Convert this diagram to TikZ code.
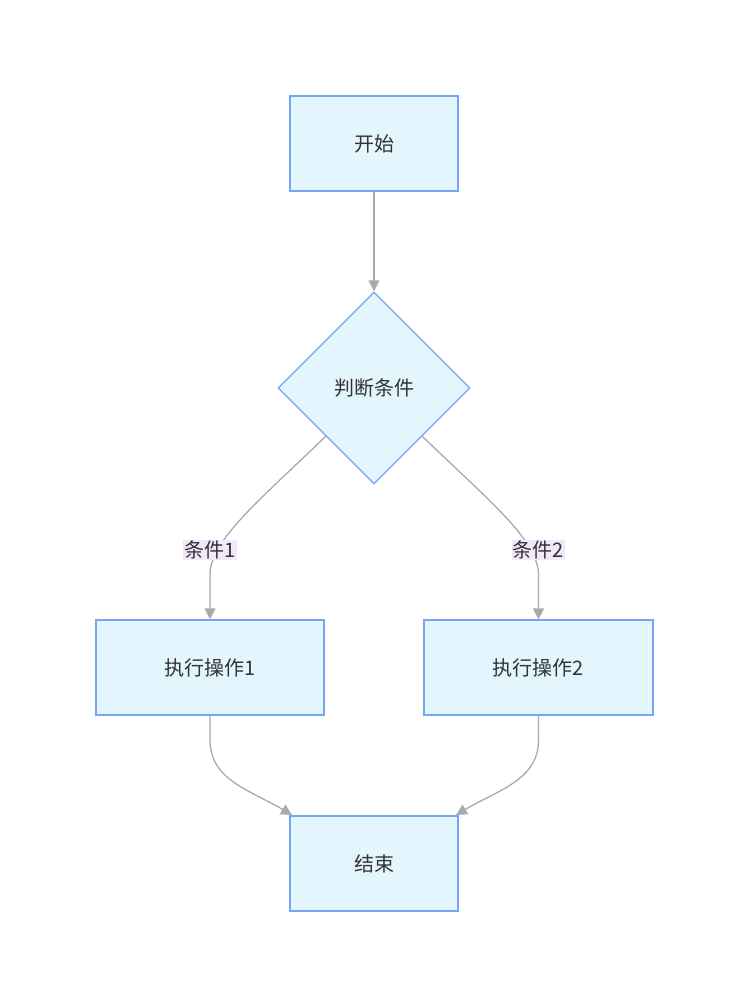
\documentclass[tikz,border=0pt]{standalone}
\usepackage{fontspec}
\setmainfont{Noto Sans CJK SC}
\usetikzlibrary{shapes.geometric,arrows.meta}
\definecolor{nfill}{HTML}{E3F5FD}
\definecolor{nline}{HTML}{74A6F5}
\definecolor{lbg}{HTML}{F1E8FB}
\definecolor{txt}{HTML}{333333}
\definecolor{edge}{HTML}{AAAAAA}
\begin{document}
\begin{tikzpicture}[x=1pt,y=-1pt,
 box/.style={draw=nline,fill=nfill,line width=1.3pt,minimum height=95pt,text=txt,font=\fontsize{20}{24}\selectfont,inner sep=0},
 dia/.style={draw=nline,fill=nfill,line width=1.3pt,diamond,minimum width=192pt,minimum height=192pt,text=txt,font=\fontsize{20}{24}\selectfont,inner sep=0},
 lab/.style={fill=lbg,text=txt,font=\fontsize{20}{24}\selectfont,inner sep=1pt},
 arr/.style={draw=edge,line width=1.3pt,-{Triangle[length=11pt,width=11pt,fill=edge]}}]
\useasboundingbox (0,0) rectangle (749,1008);
\node[box,minimum width=168pt] (s) at (374,143.5) {开始};
\node[dia] (d) at (374,388) {判断条件};
\node[box,minimum width=228pt] (a) at (210,667.5) {执行操作1};
\node[box,minimum width=229pt] (b) at (538.5,667.5) {执行操作2};
\node[box,minimum width=168pt] (e) at (374,863.5) {结束};
\draw[arr] (s) -- (d);
\coordinate (l1) at (326,436);
\coordinate (l2) at (422,436);
\draw[arr] (l1) .. controls (260,500) and (210,540) .. (210,575) -- (a.north);
\draw[arr] (l2) .. controls (488,500) and (538.5,540) .. (538.5,575) -- (b.north);
\node[lab] (t1) at (210,550) {条件1};
\node[lab] (t2) at (538.5,550) {条件2};
\draw[arr] (a.south) -- (210,740) .. controls (210,780) and (250,790) .. (292,815);
\draw[arr] (b.south) -- (538.5,740) .. controls (538.5,780) and (498,790) .. (456,815);
\end{tikzpicture}
\end{document}
